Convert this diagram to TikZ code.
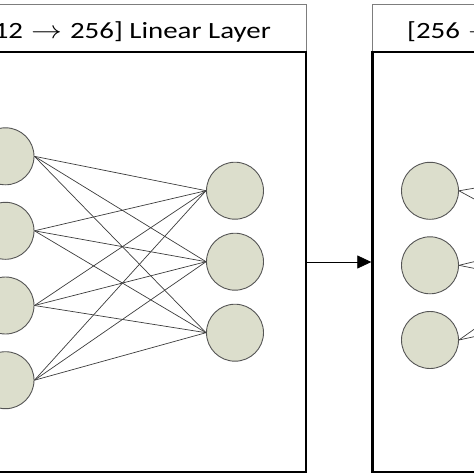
\documentclass[tikz,border=0pt]{standalone}
\usepackage{fontspec}
\setmainfont{Carlito}
\usetikzlibrary{arrows.meta}
\definecolor{nodefill}{RGB}{220,222,204}
\definecolor{nodeline}{RGB}{85,85,85}
\definecolor{edgecol}{RGB}{60,60,60}
\definecolor{titleline}{RGB}{125,125,125}
\newcommand{\layerarrow}{\hspace{0.28em}$\rightarrow$\hspace{0.28em}}
\tikzset{
  neuron/.style={circle, draw=nodeline, fill=nodefill, line width=0.9pt, minimum size=57pt, inner sep=0pt},
  conn/.style={draw=edgecol, line width=0.7pt},
  titlebox/.style={draw=titleline, line width=1pt, minimum height=48pt, inner sep=0pt},
  mainbox/.style={draw=black, line width=2.4pt, minimum height=420pt, inner sep=0pt},
  titletext/.style={inner sep=0pt, font=\fontsize{23.3}{28}\selectfont},
  flow/.style={draw=black, line width=0.8pt, -{Triangle[length=14pt,width=13pt]}}
}
\begin{document}
\begin{tikzpicture}[x=1pt,y=-1pt]
\useasboundingbox (0,0) rectangle (474,474);
\clip (0,0) rectangle (474,474);
% title boxes
\node[titlebox, minimum width=506pt] (t1) at (53,28) {};
\node[titlebox, minimum width=506pt] (t2) at (625.5,28) {};
% main boxes
\node[mainbox, minimum width=506pt] (box1) at (53,262) {};
\node[mainbox, minimum width=506pt] (box2) at (625.5,262) {};
% titles
\node[titletext, anchor=base east] (l1) at (271,38.3) {\scalebox{1.24}[1]{[512\layerarrow 256] Linear Layer}};
\node[titletext, anchor=base west] (l2) at (407,38.3) {\scalebox{1.24}[1]{[256\layerarrow 128] Linear Layer}};
% arrow between layers
\draw[flow] (box1.east) -- (box2.west);
% left box neurons
\node[neuron] (a1) at (5.5,156.3) {};
\node[neuron] (a2) at (5.5,230.8) {};
\node[neuron] (a3) at (5.5,305.5) {};
\node[neuron] (a4) at (5.5,380.2) {};
\node[neuron] (b1) at (235,190.7) {};
\node[neuron] (b2) at (235,261.7) {};
\node[neuron] (b3) at (235,332.7) {};
\foreach \i in {1,...,4}{
  \foreach \j in {1,2,3}{
    \draw[conn] (a\i.east) -- (b\j.west);
  }
}
% right box neurons
\node[neuron] (c1) at (430,190.8) {};
\node[neuron] (c2) at (430,265.3) {};
\node[neuron] (c3) at (430,340.0) {};
\coordinate (d11) at (490,185.5);
\coordinate (d12) at (490,207.6);
\coordinate (d21) at (490,257.9);
\coordinate (d22) at (490,271.5);
\coordinate (d31) at (490,318.0);
\coordinate (d32) at (490,333.2);
\foreach \i in {1,2,3}{
  \draw[conn] (c\i.east) -- (d\i1);
  \draw[conn] (c\i.east) -- (d\i2);
}
\end{tikzpicture}
\end{document}
